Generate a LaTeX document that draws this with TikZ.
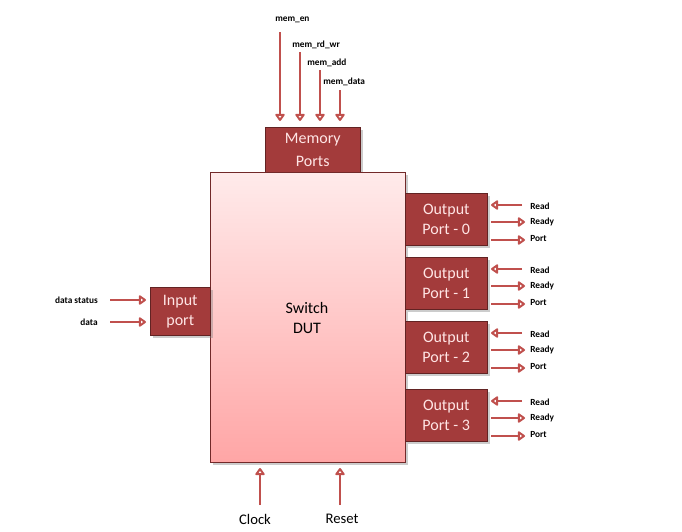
\documentclass[tikz,border=0pt]{standalone}
\usepackage{fontspec}
\setmainfont{Carlito}
\usetikzlibrary{arrows.meta,shadows}
\definecolor{boxred}{HTML}{A33B3B}
\definecolor{arrred}{HTML}{C0504D}
\begin{document}
\begin{tikzpicture}[x=0.75pt,y=-0.75pt,
  blk/.style={draw=boxred!60!black,fill=boxred,text=white!90!red,align=center,font=\fontsize{12}{15}\selectfont,inner sep=0pt,drop shadow={opacity=0.4}},
  sig/.style={draw=arrred,line width=1.8pt,-{Triangle[open,width=8pt,length=6pt,line width=1.5pt,round]}},
  lbl/.style={font=\bfseries\fontsize{7}{8}\selectfont,inner sep=0pt},
  lbl2/.style={font=\fontsize{11}{13}\selectfont,inner sep=0pt}]
\useasboundingbox (0,0) rectangle (682,532);
% memory ports
\node[blk,minimum width=71.25pt,minimum height=33.75pt,anchor=north west,text depth=0pt] (mem) at (265,127) {Memory\\[2pt]Ports};
% main box
\path[top color=red!8,bottom color=red!35,draw=boxred!70!black,line width=0.6pt,drop shadow={opacity=0.4}] (210,172) rectangle (405,462);
\node[font=\fontsize{12}{15}\selectfont,align=center] (dut) at (307,318) {Switch\\DUT};
\coordinate (dutb) at (307,462);
% input port
\node[blk,minimum width=45pt,minimum height=36pt,anchor=north west] (inp) at (150,287) {Input\\port};
\node[lbl,anchor=east] (ds) at (98,300) {data status};
\node[lbl,anchor=east] (dd) at (98,322) {data};
\draw[sig] (110,300) -- (146,300);
\draw[sig] (110,322) -- (146,322);
% memory signals
\foreach \x/\y/\t/\n in {280/20/mem\_en/a,297/45/mem\_rd\_wr/b,312/63/mem\_add/c,328/82/mem\_data/d}{
  \node[lbl,anchor=west] (m\n) at (\x-5,\y) {\t};
}
\draw[sig] (280,32) -- (280,121);
\draw[sig] (300,52) -- (300,121);
\draw[sig] (320,70) -- (320,121);
\draw[sig] (340,90) -- (340,121);
% output ports
\foreach \y/\k in {193/0,257/1,321/2,389/3}{
  \node[blk,minimum width=61.5pt,minimum height=39pt,anchor=north west] (o\k) at (405,\y) {Output\\Port - \k};
  \draw[sig] (522,\y+12) -- (491,\y+12);
  \draw[sig] (491,\y+29) -- (525,\y+29);
  \draw[sig] (491,\y+47) -- (525,\y+47);
  \node[lbl,anchor=west] (r\k) at (530,\y+13) {Read};
  \node[lbl,anchor=west] (y\k) at (530,\y+29) {Ready};
  \node[lbl,anchor=west] (p\k) at (530,\y+46) {Port};
}
% clock reset
\node[lbl2] (clk) at (255,519) {Clock};
\node[lbl2] (rst) at (342,519) {Reset};
\draw[sig] (260,505) -- (260,468);
\draw[sig] (340,505) -- (340,468);
\end{tikzpicture}
\end{document}
